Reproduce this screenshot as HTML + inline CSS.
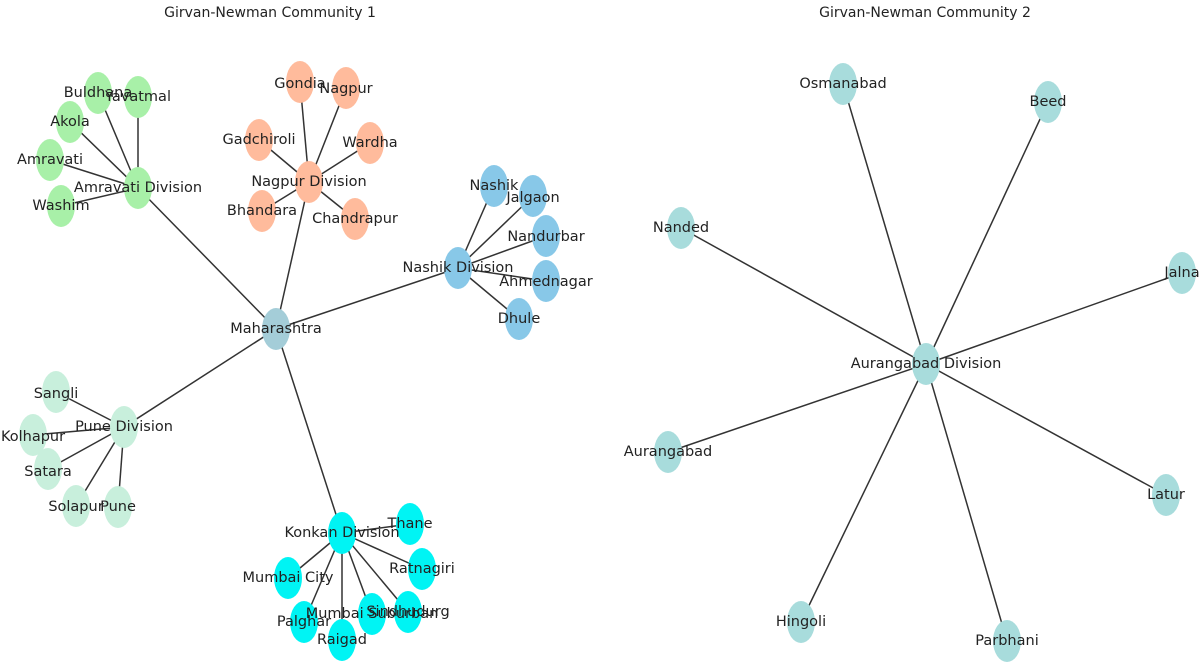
<!DOCTYPE html>
<html><head><meta charset="utf-8"><style>
html,body{margin:0;padding:0;background:#fff}
svg{display:block}
text{font-family:"DejaVu Sans","Liberation Sans",sans-serif;font-size:14.5px;fill:#222;text-anchor:middle;dominant-baseline:central}
line{stroke:#333;stroke-width:1.5}
</style></head><body>
<svg width="1200" height="665" viewBox="0 0 1200 665">
<text x="270" y="13" style="font-size:14px">Girvan-Newman Community 1</text>
<text x="925" y="13" style="font-size:14px">Girvan-Newman Community 2</text>
<g>
<line x1="276" y1="329" x2="138" y2="188"/><line x1="276" y1="329" x2="309" y2="182"/><line x1="276" y1="329" x2="458" y2="268"/><line x1="276" y1="329" x2="124" y2="427"/><line x1="276" y1="329" x2="342" y2="533"/>
<line x1="138" y1="188" x2="98" y2="93"/><line x1="138" y1="188" x2="138" y2="97"/><line x1="138" y1="188" x2="70" y2="122"/><line x1="138" y1="188" x2="50" y2="160"/><line x1="138" y1="188" x2="61" y2="206"/>
<line x1="309" y1="182" x2="300" y2="82"/><line x1="309" y1="182" x2="346" y2="88"/><line x1="309" y1="182" x2="259" y2="140"/><line x1="309" y1="182" x2="370" y2="143"/><line x1="309" y1="182" x2="262" y2="211"/><line x1="309" y1="182" x2="355" y2="219"/>
<line x1="458" y1="268" x2="494" y2="186"/><line x1="458" y1="268" x2="533" y2="196"/><line x1="458" y1="268" x2="546" y2="236"/><line x1="458" y1="268" x2="546" y2="281"/><line x1="458" y1="268" x2="519" y2="319"/>
<line x1="124" y1="427" x2="56" y2="392"/><line x1="124" y1="427" x2="33" y2="435"/><line x1="124" y1="427" x2="48" y2="469"/><line x1="124" y1="427" x2="76" y2="506"/><line x1="124" y1="427" x2="118" y2="507"/>
<line x1="342" y1="533" x2="410" y2="524"/><line x1="342" y1="533" x2="422" y2="569"/><line x1="342" y1="533" x2="288" y2="578"/><line x1="342" y1="533" x2="304" y2="622"/><line x1="342" y1="533" x2="342" y2="640"/><line x1="342" y1="533" x2="372" y2="614"/><line x1="342" y1="533" x2="408" y2="612"/>
<line x1="926" y1="364" x2="843" y2="84"/><line x1="926" y1="364" x2="1048" y2="102"/><line x1="926" y1="364" x2="681" y2="228"/><line x1="926" y1="364" x2="1182" y2="273"/><line x1="926" y1="364" x2="668" y2="452"/><line x1="926" y1="364" x2="1166" y2="495"/><line x1="926" y1="364" x2="801" y2="622"/><line x1="926" y1="364" x2="1007" y2="641"/>
</g>
<g fill="#a8f0a8">
<ellipse cx="138" cy="188" rx="14" ry="21"/><ellipse cx="98" cy="93" rx="14" ry="21"/><ellipse cx="138" cy="97" rx="14" ry="21"/><ellipse cx="70" cy="122" rx="14" ry="21"/><ellipse cx="50" cy="160" rx="14" ry="21"/><ellipse cx="61" cy="206" rx="14" ry="21"/>
</g>
<g fill="#ffbb9c">
<ellipse cx="309" cy="182" rx="14" ry="21"/><ellipse cx="300" cy="82" rx="14" ry="21"/><ellipse cx="346" cy="88" rx="14" ry="21"/><ellipse cx="259" cy="140" rx="14" ry="21"/><ellipse cx="370" cy="143" rx="14" ry="21"/><ellipse cx="262" cy="211" rx="14" ry="21"/><ellipse cx="355" cy="219" rx="14" ry="21"/>
</g>
<g fill="#88c8e8">
<ellipse cx="458" cy="268" rx="14" ry="21"/><ellipse cx="494" cy="186" rx="14" ry="21"/><ellipse cx="533" cy="196" rx="14" ry="21"/><ellipse cx="546" cy="236" rx="14" ry="21"/><ellipse cx="546" cy="281" rx="14" ry="21"/><ellipse cx="519" cy="319" rx="14" ry="21"/>
</g>
<g fill="#c8efdc">
<ellipse cx="124" cy="427" rx="14" ry="21"/><ellipse cx="56" cy="392" rx="14" ry="21"/><ellipse cx="33" cy="435" rx="14" ry="21"/><ellipse cx="48" cy="469" rx="14" ry="21"/><ellipse cx="76" cy="506" rx="14" ry="21"/><ellipse cx="118" cy="507" rx="14" ry="21"/>
</g>
<g fill="#00f4f4">
<ellipse cx="342" cy="533" rx="14" ry="21"/><ellipse cx="410" cy="524" rx="14" ry="21"/><ellipse cx="422" cy="569" rx="14" ry="21"/><ellipse cx="288" cy="578" rx="14" ry="21"/><ellipse cx="304" cy="622" rx="14" ry="21"/><ellipse cx="342" cy="640" rx="14" ry="21"/><ellipse cx="372" cy="614" rx="14" ry="21"/><ellipse cx="408" cy="612" rx="14" ry="21"/>
</g>
<ellipse cx="276" cy="329" rx="14" ry="21" fill="#a4cdd8"/>
<g fill="#a8dcdc">
<ellipse cx="926" cy="364" rx="14" ry="21"/><ellipse cx="843" cy="84" rx="14" ry="21"/><ellipse cx="1048" cy="102" rx="14" ry="21"/><ellipse cx="681" cy="228" rx="14" ry="21"/><ellipse cx="1182" cy="273" rx="14" ry="21"/><ellipse cx="668" cy="452" rx="14" ry="21"/><ellipse cx="1166" cy="495" rx="14" ry="21"/><ellipse cx="801" cy="622" rx="14" ry="21"/><ellipse cx="1007" cy="641" rx="14" ry="21"/>
</g>
<g>
<text x="276" y="329">Maharashtra</text>
<text x="138" y="188">Amravati Division</text><text x="98" y="93">Buldhana</text><text x="138" y="97">Yavatmal</text><text x="70" y="122">Akola</text><text x="50" y="160">Amravati</text><text x="61" y="206">Washim</text>
<text x="309" y="182">Nagpur Division</text><text x="300" y="84">Gondia</text><text x="346" y="89">Nagpur</text><text x="259" y="140">Gadchiroli</text><text x="370" y="143">Wardha</text><text x="262" y="211">Bhandara</text><text x="355" y="219">Chandrapur</text>
<text x="458" y="268">Nashik Division</text><text x="494" y="186">Nashik</text><text x="533" y="198">Jalgaon</text><text x="546" y="237">Nandurbar</text><text x="546" y="282">Ahmednagar</text><text x="519" y="319">Dhule</text>
<text x="124" y="427">Pune Division</text><text x="56" y="394">Sangli</text><text x="33" y="437">Kolhapur</text><text x="48" y="472">Satara</text><text x="76" y="507">Solapur</text><text x="118" y="507">Pune</text>
<text x="342" y="533">Konkan Division</text><text x="410" y="524">Thane</text><text x="422" y="569">Ratnagiri</text><text x="288" y="578">Mumbai City</text><text x="304" y="622">Palghar</text><text x="342" y="640">Raigad</text><text x="372" y="614">Mumbai Suburban</text><text x="408" y="612">Sindhudurg</text>
<text x="926" y="364">Aurangabad Division</text><text x="843" y="84">Osmanabad</text><text x="1048" y="102">Beed</text><text x="681" y="228">Nanded</text><text x="1182" y="273">Jalna</text><text x="668" y="452">Aurangabad</text><text x="1166" y="495">Latur</text><text x="801" y="622">Hingoli</text><text x="1007" y="641">Parbhani</text>
</g>
</svg>
</body></html>
